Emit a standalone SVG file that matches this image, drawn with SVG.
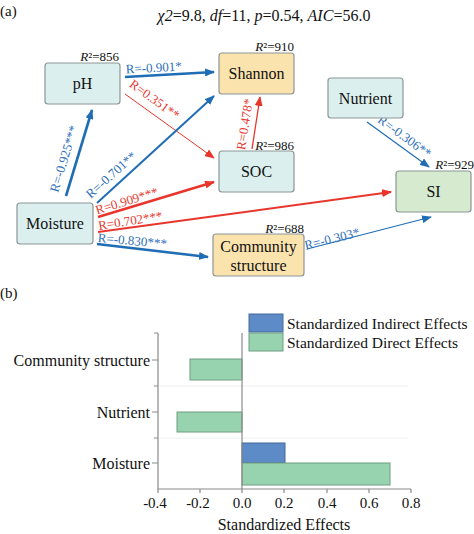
<svg xmlns="http://www.w3.org/2000/svg" width="474" height="534" viewBox="0 0 474 534" font-family="'Liberation Serif', 'DejaVu Serif', 'Times New Roman', serif">
<defs>
<marker id="ab" viewBox="0 0 10 8" refX="9" refY="4" markerWidth="10" markerHeight="8" markerUnits="userSpaceOnUse" orient="auto"><path d="M0,0 L10,4 L0,8 Z" fill="#1f6db5"/></marker>
<marker id="ar" viewBox="0 0 10 8" refX="9" refY="4" markerWidth="10" markerHeight="8" markerUnits="userSpaceOnUse" orient="auto"><path d="M0,0 L10,4 L0,8 Z" fill="#e8362c"/></marker>
</defs>
<style>
text{fill:#111}
.node rect{stroke:#8c9696;stroke-width:1.2}
.cy{fill:#dcefef}
.or{fill:#fbe3ae}
.gr{fill:#d6ead0}
.nt{font-size:16px;text-anchor:middle}
.r2{font-size:13px;text-anchor:end}
.b{stroke:#1f6db5;fill:none;marker-end:url(#ab)}
.r{stroke:#e8362c;fill:none;marker-end:url(#ar)}
.lb{font-size:13px;fill:#2f70b8;text-anchor:middle}
.lr{font-size:13px;fill:#e53a30;text-anchor:middle}
.ax{stroke:#8a8a8a;stroke-width:1.2;fill:none}
.tk{font-size:15px;text-anchor:middle}
.cat{font-size:16px;text-anchor:end}
</style>
<text x="0" y="16" font-size="15">(a)</text>
<text x="264" y="21" font-size="16" text-anchor="middle"><tspan font-style="italic">χ2</tspan>=9.8, <tspan font-style="italic">df</tspan>=11, <tspan font-style="italic">p</tspan>=0.54, <tspan font-style="italic">AIC</tspan>=56.0</text>

<g id="connectors">
<line class="b" x1="66" y1="196" x2="92" y2="110" stroke-width="2.6"/>
<line class="b" x1="125" y1="77" x2="214" y2="72" stroke-width="2.6"/>
<line class="r" x1="125" y1="94" x2="214" y2="158" stroke-width="1"/>
<line class="b" x1="97" y1="203" x2="214" y2="96" stroke-width="2"/>
<line class="r" x1="252" y1="149" x2="260" y2="97" stroke-width="1.3"/>
<line class="r" x1="98" y1="217" x2="214" y2="182" stroke-width="2.6"/>
<line class="r" x1="98" y1="232" x2="391" y2="192" stroke-width="2"/>
<line class="b" x1="97" y1="244" x2="208" y2="257" stroke-width="2.6"/>
<line class="b" x1="367" y1="122" x2="429" y2="167" stroke-width="1.2"/>
<line class="b" x1="307" y1="249" x2="431" y2="217" stroke-width="1.2"/>
<text class="lb" transform="translate(68,160) rotate(-73)">R=-0.925***</text>
<text class="lb" transform="translate(154,72) rotate(-3)">R=-0.901*</text>
<text class="lr" transform="translate(152,103) rotate(36)">R=0.351**</text>
<text class="lb" transform="translate(114,178) rotate(-42)">R=-0.701**</text>
<text class="lr" transform="translate(249,125) rotate(-81)">R=0.478*</text>
<text class="lr" transform="translate(128,205) rotate(-17)">R=0.909***</text>
<text class="lr" transform="translate(131,225) rotate(-9)">R=0.702***</text>
<text class="lb" transform="translate(132,245) rotate(5)">R=-0.830***</text>
<text class="lb" transform="translate(402,140) rotate(36)">R=-0.306**</text>
<text class="lb" transform="translate(333,243) rotate(-14)">R=-0.303*</text>
</g>

<g id="pH" class="node"><rect class="cy" x="45" y="63" width="75" height="41" rx="3"/><text class="nt" x="82.5" y="89">pH</text><text class="r2" x="119" y="61"><tspan font-style="italic">R</tspan>²=856</text></g>
<g id="Shannon" class="node"><rect class="or" x="219" y="53" width="75" height="41" rx="3"/><text class="nt" x="256.5" y="79">Shannon</text><text class="r2" x="294" y="51"><tspan font-style="italic">R</tspan>²=910</text></g>
<g id="Nutrient" class="node"><rect class="cy" x="328" y="78" width="75" height="40" rx="3"/><text class="nt" x="365.5" y="104">Nutrient</text></g>
<g id="SOC" class="node"><rect class="cy" x="219" y="151" width="75" height="41" rx="3"/><text class="nt" x="256.5" y="177">SOC</text><text class="r2" x="294" y="150"><tspan font-style="italic">R</tspan>²=986</text></g>
<g id="SI" class="node"><rect class="gr" x="396" y="171" width="75" height="41" rx="3"/><text class="nt" x="433.5" y="197">SI</text><text class="r2" x="474" y="169"><tspan font-style="italic">R</tspan>²=929</text></g>
<g id="Community" class="node"><rect class="or" x="213" y="234" width="91" height="42" rx="3"/><text class="nt" x="258.5" y="252">Community</text><text class="nt" x="258.5" y="271">structure</text><text class="r2" x="304" y="233"><tspan font-style="italic">R</tspan>²=688</text></g>
<g id="Moisture" class="node"><rect class="cy" x="17" y="203" width="76" height="41" rx="3"/><text class="nt" x="55" y="229">Moisture</text></g>

<text x="0" y="298" font-size="15">(b)</text>
<g id="chart">
<line x1="160" y1="386" x2="408" y2="386" stroke="#eeeeee" stroke-width="1"/>
<line x1="160" y1="438" x2="408" y2="438" stroke="#eeeeee" stroke-width="1"/>
<rect x="190" y="359" width="52" height="21" fill="#97d3ae" stroke="#6e9c82" stroke-width="1"/>
<rect x="177" y="412" width="65" height="20" fill="#97d3ae" stroke="#6e9c82" stroke-width="1"/>
<rect x="242" y="443" width="43" height="20" fill="#5c8bc7" stroke="#46699a" stroke-width="1"/>
<rect x="242" y="463" width="148" height="22" fill="#97d3ae" stroke="#6e9c82" stroke-width="1"/>
<path class="ax" d="M158,333 V489 H411"/>
<line class="ax" x1="242" y1="333" x2="242" y2="489"/>
<path class="ax" d="M154,333 H158 M152,360 H158 M154,386 H158 M152,412 H158 M154,438 H158 M152,463 H158 M158,489 v4 M200,489 v4 M242,489 v4 M284,489 v4 M327,489 v4 M369,489 v4 M411,489 v4"/>
<text class="cat" x="150" y="366">Community structure</text>
<text class="cat" x="150" y="418">Nutrient</text>
<text class="cat" x="150" y="469">Moisture</text>
<text class="tk" x="155" y="508">-0.4</text>
<text class="tk" x="198" y="508">-0.2</text>
<text class="tk" x="242" y="508">0.0</text>
<text class="tk" x="284" y="508">0.2</text>
<text class="tk" x="327" y="508">0.4</text>
<text class="tk" x="369" y="508">0.6</text>
<text class="tk" x="411" y="508">0.8</text>
<text x="284" y="530" font-size="16" text-anchor="middle">Standardized Effects</text>
<rect x="249" y="314" width="34" height="18" fill="#5c8bc7" stroke="#46699a" stroke-width="1"/>
<rect x="249" y="333" width="34" height="18" fill="#97d3ae" stroke="#6e9c82" stroke-width="1"/>
<text x="287" y="329" font-size="15.5">Standardized Indirect Effects</text>
<text x="287" y="348" font-size="15.5">Standardized Direct Effects</text>
</g>
</svg>
